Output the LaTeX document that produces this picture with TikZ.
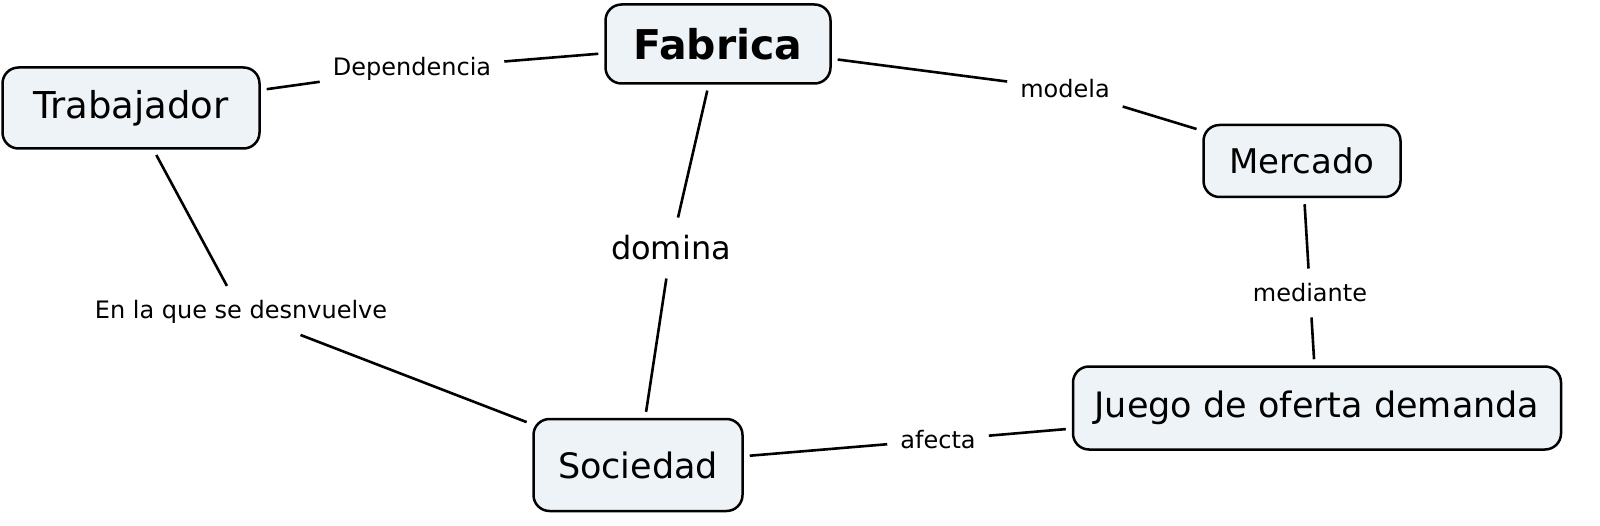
\documentclass[tikz,border=0pt]{standalone}
\usepackage{fontspec}
\setmainfont{DejaVu Sans}
\begin{document}
\begin{tikzpicture}[x=1pt,y=-1pt,
  concept/.style={draw=black,line width=2.5pt,fill=boxfill,rounded corners=16pt,inner sep=0pt},
  lbl/.style={inner sep=7pt},
  link/.style={line width=2.6pt,shorten <=6pt,shorten >=6pt}]
\definecolor{boxfill}{HTML}{EDF3F6}
\node[concept,minimum width=225pt,minimum height=79pt,font=\fontsize{41}{45}\selectfont\bfseries] (fab) at (718,44) {Fabrica};
\node[concept,minimum width=257pt,minimum height=81pt,font=\fontsize{37}{41}\selectfont] (tra) at (131,108) {Trabajador};
\node[concept,minimum width=197pt,minimum height=72pt,font=\fontsize{34}{38}\selectfont] (mer) at (1302,161) {Mercado};
\node[concept,minimum width=488pt,minimum height=83pt,font=\fontsize{35}{39}\selectfont] (jue) at (1317,408) {Juego de oferta demanda};
\node[concept,minimum width=209pt,minimum height=92pt,font=\fontsize{35}{39}\selectfont] (soc) at (638,465) {Sociedad};
\node[lbl,font=\fontsize{24}{28}\selectfont] (dep) at (412,69) {Dependencia};
\node[lbl,font=\fontsize{24}{28}\selectfont] (mod) at (1065,89) {modela};
\node[lbl,inner sep=12pt,font=\fontsize{32}{36}\selectfont] (dom) at (671,248) {domina};
\node[lbl,inner sep=9pt,font=\fontsize{24}{28}\selectfont] (enl) at (241,312) {En la que se desnvuelve};
\node[lbl,inner sep=9pt,font=\fontsize{24}{28}\selectfont] (med) at (1310,293) {mediante};
\node[lbl,font=\fontsize{24}{28}\selectfont] (afe) at (938,440) {afecta};
\draw[link] (tra) -- (dep);
\draw[link] (dep) -- (fab);
\draw[link] (fab) -- (mod);
\draw[link] (mod) -- (mer);
\draw[link] (fab) -- (dom);
\draw[link] (dom) -- (soc);
\draw[link] (tra) -- (enl);
\draw[link] (enl) -- (soc);
\draw[link] (mer) -- (med);
\draw[link] (med) -- (jue);
\draw[link] (soc) -- (afe);
\draw[link] (afe) -- (jue);
\pgfresetboundingbox
\useasboundingbox (0,0) rectangle (1600,526);
\end{tikzpicture}
\end{document}
